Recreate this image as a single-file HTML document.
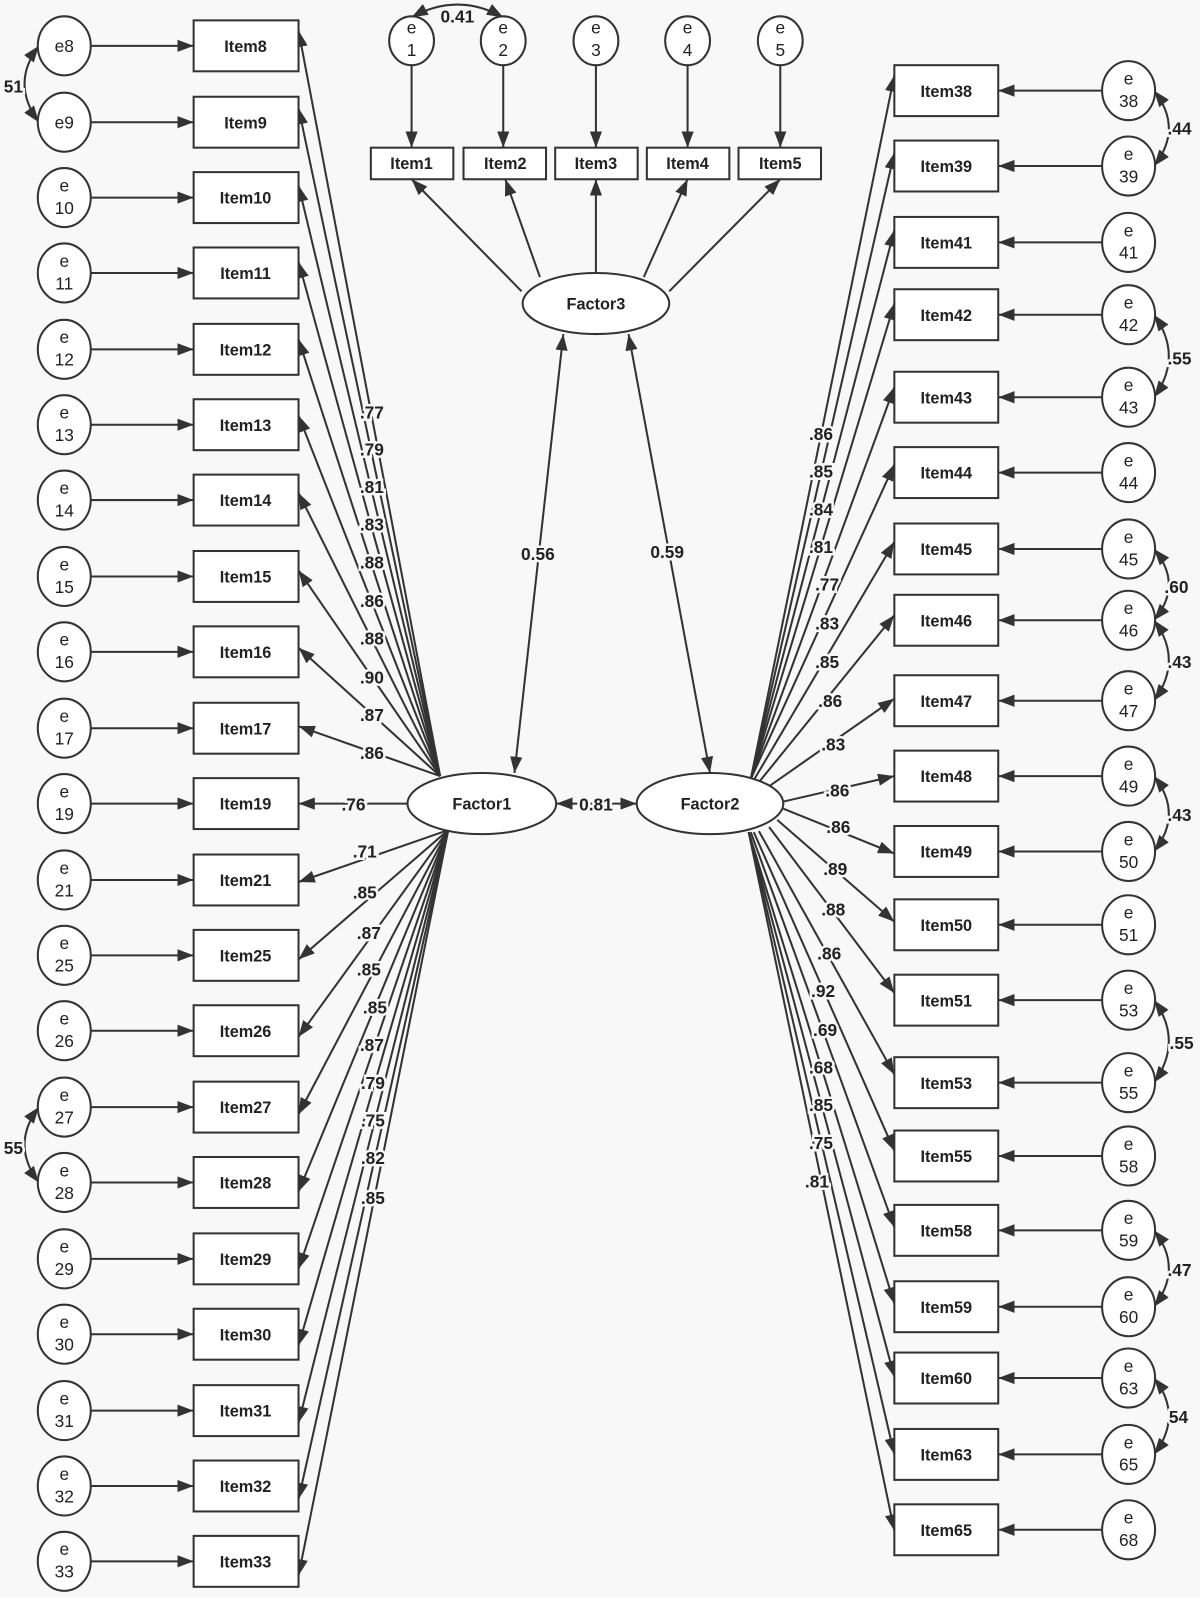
<!DOCTYPE html>
<html><head><meta charset="utf-8"><style>
html,body{margin:0;padding:0;background:#f8f8f8;}
svg{display:block}
text{font-family:"Liberation Sans",sans-serif;fill:#222;}
.b{font-weight:bold;font-size:16px;text-anchor:middle}
.e{font-size:17px;text-anchor:middle}
.l{font-size:17px;font-weight:bold;text-anchor:middle}
</style></head><body>
<svg width="1200" height="1597" viewBox="0 0 1178 1568" xmlns="http://www.w3.org/2000/svg">
<defs>
<marker id="a" viewBox="0 0 16 12" refX="16" refY="6" markerWidth="16" markerHeight="12" markerUnits="userSpaceOnUse" orient="auto-start-reverse"><path d="M0,0 L16,6 L0,12 z" fill="#333"/></marker>
</defs>
<rect width="1178" height="1568" fill="#f8f8f8"/>
<g stroke="#333" stroke-width="2" fill="none" marker-end="url(#a)">
<path d="M89,45H190"/><path d="M89,120H190"/><path d="M89,194H190"/><path d="M89,268H190"/><path d="M89,343H190"/><path d="M89,417H190"/><path d="M89,491H190"/><path d="M89,566H190"/><path d="M89,640H190"/><path d="M89,715H190"/><path d="M89,789H190"/><path d="M89,864H190"/><path d="M89,938H190"/><path d="M89,1012H190"/><path d="M89,1087H190"/><path d="M89,1161H190"/><path d="M89,1236H190"/><path d="M89,1310H190"/><path d="M89,1385H190"/><path d="M89,1459H190"/><path d="M89,1533H190"/>
<path d="M1083,89H980"/><path d="M1083,163H980"/><path d="M1083,238H980"/><path d="M1083,309H980"/><path d="M1083,390H980"/><path d="M1083,464H980"/><path d="M1083,539H980"/><path d="M1083,609H980"/><path d="M1083,688H980"/><path d="M1083,762H980"/><path d="M1083,836H980"/><path d="M1083,908H980"/><path d="M1083,982H980"/><path d="M1083,1063H980"/><path d="M1083,1135H980"/><path d="M1083,1208H980"/><path d="M1083,1283H980"/><path d="M1083,1353H980"/><path d="M1083,1428H980"/><path d="M1083,1502H980"/>
<path d="M404,64V145"/><path d="M494,64V145"/><path d="M585,64V145"/><path d="M675,64V145"/><path d="M766,64V145"/>
</g>
<g stroke="#333" stroke-width="2" fill="none">
<line x1="432" y1="762" x2="293" y2="30" marker-end="url(#a)"/>
<line x1="432" y1="762" x2="293" y2="106" marker-end="url(#a)"/>
<line x1="432" y1="762" x2="293" y2="182" marker-end="url(#a)"/>
<line x1="432" y1="762" x2="293" y2="257" marker-end="url(#a)"/>
<line x1="432" y1="762" x2="293" y2="333" marker-end="url(#a)"/>
<line x1="432" y1="762" x2="293" y2="408" marker-end="url(#a)"/>
<line x1="432" y1="762" x2="293" y2="484" marker-end="url(#a)"/>
<line x1="432" y1="762" x2="293" y2="560" marker-end="url(#a)"/>
<line x1="432" y1="762" x2="293" y2="636" marker-end="url(#a)"/>
<line x1="432" y1="762" x2="293" y2="713" marker-end="url(#a)"/>
<line x1="400" y1="789" x2="293" y2="789" marker-end="url(#a)"/>
<line x1="440" y1="815" x2="293" y2="866" marker-end="url(#a)"/>
<line x1="440" y1="815" x2="293" y2="942" marker-end="url(#a)"/>
<line x1="440" y1="815" x2="293" y2="1018" marker-end="url(#a)"/>
<line x1="440" y1="815" x2="293" y2="1094" marker-end="url(#a)"/>
<line x1="440" y1="815" x2="293" y2="1170" marker-end="url(#a)"/>
<line x1="440" y1="815" x2="293" y2="1246" marker-end="url(#a)"/>
<line x1="440" y1="815" x2="293" y2="1321" marker-end="url(#a)"/>
<line x1="440" y1="815" x2="293" y2="1397" marker-end="url(#a)"/>
<line x1="440" y1="815" x2="293" y2="1472" marker-end="url(#a)"/>
<line x1="440" y1="815" x2="293" y2="1547" marker-end="url(#a)"/>

<line x1="737" y1="765" x2="878" y2="74" marker-end="url(#a)"/>
<line x1="737" y1="765" x2="878" y2="150" marker-end="url(#a)"/>
<line x1="737" y1="765" x2="878" y2="226" marker-end="url(#a)"/>
<line x1="737" y1="765" x2="878" y2="298" marker-end="url(#a)"/>
<line x1="737" y1="765" x2="878" y2="380" marker-end="url(#a)"/>
<line x1="737" y1="765" x2="878" y2="456" marker-end="url(#a)"/>
<line x1="740" y1="766" x2="878" y2="532" marker-end="url(#a)"/>
<line x1="745" y1="768" x2="878" y2="604" marker-end="url(#a)"/>
<line x1="755" y1="772" x2="878" y2="686" marker-end="url(#a)"/>
<line x1="769" y1="787" x2="878" y2="762" marker-end="url(#a)"/>
<line x1="769" y1="794" x2="878" y2="838" marker-end="url(#a)"/>
<line x1="763" y1="805" x2="878" y2="905" marker-end="url(#a)"/>
<line x1="755" y1="812" x2="878" y2="975" marker-end="url(#a)"/>
<line x1="745" y1="816" x2="878" y2="1055" marker-end="url(#a)"/>
<line x1="740" y1="817" x2="878" y2="1130" marker-end="url(#a)"/>
<line x1="737" y1="817" x2="878" y2="1205" marker-end="url(#a)"/>
<line x1="735" y1="817" x2="878" y2="1280" marker-end="url(#a)"/>
<line x1="735" y1="817" x2="878" y2="1352" marker-end="url(#a)"/>
<line x1="735" y1="817" x2="878" y2="1428" marker-end="url(#a)"/>
<line x1="735" y1="817" x2="878" y2="1503" marker-end="url(#a)"/>

<line x1="512" y1="286" x2="404" y2="176" marker-end="url(#a)"/>
<line x1="530" y1="272" x2="496" y2="176" marker-end="url(#a)"/>
<line x1="585" y1="268" x2="585" y2="176" marker-end="url(#a)"/>
<line x1="632" y1="272" x2="675" y2="176" marker-end="url(#a)"/>
<line x1="657" y1="286" x2="766" y2="176" marker-end="url(#a)"/>
<line x1="505" y1="759" x2="553" y2="328" marker-start="url(#a)" marker-end="url(#a)"/>
<line x1="617" y1="328" x2="697" y2="759" marker-start="url(#a)" marker-end="url(#a)"/>
<line x1="546" y1="789" x2="625" y2="789" marker-start="url(#a)" marker-end="url(#a)"/>
<path d="M404,17 Q449,-8 494,17" marker-start="url(#a)" marker-end="url(#a)"/>
<path d="M38,45 Q10,82 38,120" marker-start="url(#a)" marker-end="url(#a)"/>
<path d="M38,1087 Q10,1124 38,1161" marker-start="url(#a)" marker-end="url(#a)"/>
<path d="M1133,89 Q1162,126 1133,163" marker-start="url(#a)" marker-end="url(#a)"/>
<path d="M1133,309 Q1162,350 1133,390" marker-start="url(#a)" marker-end="url(#a)"/>
<path d="M1133,539 Q1162,574 1133,609" marker-start="url(#a)" marker-end="url(#a)"/>
<path d="M1133,609 Q1162,648 1133,688" marker-start="url(#a)" marker-end="url(#a)"/>
<path d="M1133,762 Q1162,799 1133,836" marker-start="url(#a)" marker-end="url(#a)"/>
<path d="M1133,982 Q1162,1022 1133,1063" marker-start="url(#a)" marker-end="url(#a)"/>
<path d="M1133,1208 Q1162,1245 1133,1283" marker-start="url(#a)" marker-end="url(#a)"/>
<path d="M1133,1353 Q1162,1390 1133,1428" marker-start="url(#a)" marker-end="url(#a)"/>
</g>
<g fill="#fff" stroke="#333" stroke-width="2">
<rect x="190" y="20" width="103" height="50"/><rect x="190" y="95" width="103" height="50"/><rect x="190" y="169" width="103" height="50"/><rect x="190" y="243" width="103" height="50"/><rect x="190" y="318" width="103" height="50"/><rect x="190" y="392" width="103" height="50"/><rect x="190" y="466" width="103" height="50"/><rect x="190" y="541" width="103" height="50"/><rect x="190" y="615" width="103" height="50"/><rect x="190" y="690" width="103" height="50"/><rect x="190" y="764" width="103" height="50"/><rect x="190" y="839" width="103" height="50"/><rect x="190" y="913" width="103" height="50"/><rect x="190" y="987" width="103" height="50"/><rect x="190" y="1062" width="103" height="50"/><rect x="190" y="1136" width="103" height="50"/><rect x="190" y="1211" width="103" height="50"/><rect x="190" y="1285" width="103" height="50"/><rect x="190" y="1360" width="103" height="50"/><rect x="190" y="1434" width="103" height="50"/><rect x="190" y="1508" width="103" height="50"/>
<rect x="878" y="64" width="102" height="50"/><rect x="878" y="138" width="102" height="50"/><rect x="878" y="213" width="102" height="50"/><rect x="878" y="284" width="102" height="50"/><rect x="878" y="365" width="102" height="50"/><rect x="878" y="439" width="102" height="50"/><rect x="878" y="514" width="102" height="50"/><rect x="878" y="584" width="102" height="50"/><rect x="878" y="663" width="102" height="50"/><rect x="878" y="737" width="102" height="50"/><rect x="878" y="811" width="102" height="50"/><rect x="878" y="883" width="102" height="50"/><rect x="878" y="957" width="102" height="50"/><rect x="878" y="1038" width="102" height="50"/><rect x="878" y="1110" width="102" height="50"/><rect x="878" y="1183" width="102" height="50"/><rect x="878" y="1258" width="102" height="50"/><rect x="878" y="1328" width="102" height="50"/><rect x="878" y="1403" width="102" height="50"/><rect x="878" y="1477" width="102" height="50"/>
<rect x="364" y="145" width="81" height="31"/><rect x="455" y="145" width="81" height="31"/><rect x="545" y="145" width="81" height="31"/><rect x="635" y="145" width="81" height="31"/><rect x="725" y="145" width="81" height="31"/>
<ellipse cx="473" cy="789" rx="73" ry="30"/><ellipse cx="697" cy="789" rx="72" ry="30"/><ellipse cx="585" cy="298" rx="72" ry="30"/>
<ellipse cx="404" cy="40" rx="22" ry="24"/><ellipse cx="494" cy="40" rx="22" ry="24"/><ellipse cx="585" cy="40" rx="22" ry="24"/><ellipse cx="675" cy="40" rx="22" ry="24"/><ellipse cx="766" cy="40" rx="22" ry="24"/>
<ellipse cx="63" cy="45" rx="26" ry="29"/><ellipse cx="63" cy="120" rx="26" ry="29"/><ellipse cx="63" cy="194" rx="26" ry="29"/><ellipse cx="63" cy="268" rx="26" ry="29"/><ellipse cx="63" cy="343" rx="26" ry="29"/><ellipse cx="63" cy="417" rx="26" ry="29"/><ellipse cx="63" cy="491" rx="26" ry="29"/><ellipse cx="63" cy="566" rx="26" ry="29"/><ellipse cx="63" cy="640" rx="26" ry="29"/><ellipse cx="63" cy="715" rx="26" ry="29"/><ellipse cx="63" cy="789" rx="26" ry="29"/><ellipse cx="63" cy="864" rx="26" ry="29"/><ellipse cx="63" cy="938" rx="26" ry="29"/><ellipse cx="63" cy="1012" rx="26" ry="29"/><ellipse cx="63" cy="1087" rx="26" ry="29"/><ellipse cx="63" cy="1161" rx="26" ry="29"/><ellipse cx="63" cy="1236" rx="26" ry="29"/><ellipse cx="63" cy="1310" rx="26" ry="29"/><ellipse cx="63" cy="1385" rx="26" ry="29"/><ellipse cx="63" cy="1459" rx="26" ry="29"/><ellipse cx="63" cy="1533" rx="26" ry="29"/>
<ellipse cx="1108" cy="89" rx="26" ry="29"/><ellipse cx="1108" cy="163" rx="26" ry="29"/><ellipse cx="1108" cy="238" rx="26" ry="29"/><ellipse cx="1108" cy="309" rx="26" ry="29"/><ellipse cx="1108" cy="390" rx="26" ry="29"/><ellipse cx="1108" cy="464" rx="26" ry="29"/><ellipse cx="1108" cy="539" rx="26" ry="29"/><ellipse cx="1108" cy="609" rx="26" ry="29"/><ellipse cx="1108" cy="688" rx="26" ry="29"/><ellipse cx="1108" cy="762" rx="26" ry="29"/><ellipse cx="1108" cy="836" rx="26" ry="29"/><ellipse cx="1108" cy="908" rx="26" ry="29"/><ellipse cx="1108" cy="982" rx="26" ry="29"/><ellipse cx="1108" cy="1063" rx="26" ry="29"/><ellipse cx="1108" cy="1135" rx="26" ry="29"/><ellipse cx="1108" cy="1208" rx="26" ry="29"/><ellipse cx="1108" cy="1283" rx="26" ry="29"/><ellipse cx="1108" cy="1353" rx="26" ry="29"/><ellipse cx="1108" cy="1428" rx="26" ry="29"/><ellipse cx="1108" cy="1502" rx="26" ry="29"/>
</g>
<g>
<text class="b" x="241" y="51">Item8</text><text class="b" x="241" y="126">Item9</text><text class="b" x="241" y="200">Item10</text><text class="b" x="241" y="274">Item11</text><text class="b" x="241" y="349">Item12</text><text class="b" x="241" y="423">Item13</text><text class="b" x="241" y="497">Item14</text><text class="b" x="241" y="572">Item15</text><text class="b" x="241" y="646">Item16</text><text class="b" x="241" y="721">Item17</text><text class="b" x="241" y="795">Item19</text><text class="b" x="241" y="870">Item21</text><text class="b" x="241" y="944">Item25</text><text class="b" x="241" y="1018">Item26</text><text class="b" x="241" y="1093">Item27</text><text class="b" x="241" y="1167">Item28</text><text class="b" x="241" y="1242">Item29</text><text class="b" x="241" y="1316">Item30</text><text class="b" x="241" y="1391">Item31</text><text class="b" x="241" y="1465">Item32</text><text class="b" x="241" y="1539">Item33</text>
<text class="b" x="929" y="95">Item38</text><text class="b" x="929" y="169">Item39</text><text class="b" x="929" y="244">Item41</text><text class="b" x="929" y="315">Item42</text><text class="b" x="929" y="396">Item43</text><text class="b" x="929" y="470">Item44</text><text class="b" x="929" y="545">Item45</text><text class="b" x="929" y="615">Item46</text><text class="b" x="929" y="694">Item47</text><text class="b" x="929" y="768">Item48</text><text class="b" x="929" y="842">Item49</text><text class="b" x="929" y="914">Item50</text><text class="b" x="929" y="988">Item51</text><text class="b" x="929" y="1069">Item53</text><text class="b" x="929" y="1141">Item55</text><text class="b" x="929" y="1214">Item58</text><text class="b" x="929" y="1289">Item59</text><text class="b" x="929" y="1359">Item60</text><text class="b" x="929" y="1434">Item63</text><text class="b" x="929" y="1508">Item65</text>
<text class="b" x="404" y="166">Item1</text><text class="b" x="496" y="166">Item2</text><text class="b" x="585" y="166">Item3</text><text class="b" x="675" y="166">Item4</text><text class="b" x="766" y="166">Item5</text>
<text class="b" x="473" y="795">Factor1</text><text class="b" x="697" y="795">Factor2</text><text class="b" x="585" y="304">Factor3</text>
</g>
<g>
<text class="e" x="404" y="33">e</text><text class="e" x="404" y="55">1</text><text class="e" x="494" y="33">e</text><text class="e" x="494" y="55">2</text><text class="e" x="585" y="33">e</text><text class="e" x="585" y="55">3</text><text class="e" x="675" y="33">e</text><text class="e" x="675" y="55">4</text><text class="e" x="766" y="33">e</text><text class="e" x="766" y="55">5</text>
<text class="e" x="63" y="51">e8</text><text class="e" x="63" y="126">e9</text>
<text class="e" x="63" y="188">e</text><text class="e" x="63" y="210">10</text>
<text class="e" x="63" y="262">e</text><text class="e" x="63" y="284">11</text>
<text class="e" x="63" y="337">e</text><text class="e" x="63" y="359">12</text>
<text class="e" x="63" y="411">e</text><text class="e" x="63" y="433">13</text>
<text class="e" x="63" y="485">e</text><text class="e" x="63" y="507">14</text>
<text class="e" x="63" y="560">e</text><text class="e" x="63" y="582">15</text>
<text class="e" x="63" y="634">e</text><text class="e" x="63" y="656">16</text>
<text class="e" x="63" y="709">e</text><text class="e" x="63" y="731">17</text>
<text class="e" x="63" y="783">e</text><text class="e" x="63" y="805">19</text>
<text class="e" x="63" y="858">e</text><text class="e" x="63" y="880">21</text>
<text class="e" x="63" y="932">e</text><text class="e" x="63" y="954">25</text>
<text class="e" x="63" y="1006">e</text><text class="e" x="63" y="1028">26</text>
<text class="e" x="63" y="1081">e</text><text class="e" x="63" y="1103">27</text>
<text class="e" x="63" y="1155">e</text><text class="e" x="63" y="1177">28</text>
<text class="e" x="63" y="1230">e</text><text class="e" x="63" y="1252">29</text>
<text class="e" x="63" y="1304">e</text><text class="e" x="63" y="1326">30</text>
<text class="e" x="63" y="1379">e</text><text class="e" x="63" y="1401">31</text>
<text class="e" x="63" y="1453">e</text><text class="e" x="63" y="1475">32</text>
<text class="e" x="63" y="1527">e</text><text class="e" x="63" y="1549">33</text>
<text class="e" x="1108" y="83">e</text><text class="e" x="1108" y="105">38</text>
<text class="e" x="1108" y="157">e</text><text class="e" x="1108" y="179">39</text>
<text class="e" x="1108" y="232">e</text><text class="e" x="1108" y="254">41</text>
<text class="e" x="1108" y="303">e</text><text class="e" x="1108" y="325">42</text>
<text class="e" x="1108" y="384">e</text><text class="e" x="1108" y="406">43</text>
<text class="e" x="1108" y="458">e</text><text class="e" x="1108" y="480">44</text>
<text class="e" x="1108" y="533">e</text><text class="e" x="1108" y="555">45</text>
<text class="e" x="1108" y="603">e</text><text class="e" x="1108" y="625">46</text>
<text class="e" x="1108" y="682">e</text><text class="e" x="1108" y="704">47</text>
<text class="e" x="1108" y="756">e</text><text class="e" x="1108" y="778">49</text>
<text class="e" x="1108" y="830">e</text><text class="e" x="1108" y="852">50</text>
<text class="e" x="1108" y="902">e</text><text class="e" x="1108" y="924">51</text>
<text class="e" x="1108" y="976">e</text><text class="e" x="1108" y="998">53</text>
<text class="e" x="1108" y="1057">e</text><text class="e" x="1108" y="1079">55</text>
<text class="e" x="1108" y="1129">e</text><text class="e" x="1108" y="1151">58</text>
<text class="e" x="1108" y="1202">e</text><text class="e" x="1108" y="1224">59</text>
<text class="e" x="1108" y="1277">e</text><text class="e" x="1108" y="1299">60</text>
<text class="e" x="1108" y="1347">e</text><text class="e" x="1108" y="1369">63</text>
<text class="e" x="1108" y="1422">e</text><text class="e" x="1108" y="1444">65</text>
<text class="e" x="1108" y="1496">e</text><text class="e" x="1108" y="1518">68</text>
</g>
<g stroke="#f8f8f8" stroke-width="5" paint-order="stroke">
<text class="l" x="365" y="411">.77</text><text class="l" x="365" y="447">.79</text><text class="l" x="365" y="484">.81</text><text class="l" x="365" y="521">.83</text><text class="l" x="365" y="558">.88</text><text class="l" x="365" y="596">.86</text><text class="l" x="365" y="633">.88</text><text class="l" x="365" y="671">.90</text><text class="l" x="365" y="708">.87</text><text class="l" x="365" y="745">.86</text><text class="l" x="347" y="796">.76</text><text class="l" x="358" y="842">.71</text><text class="l" x="358" y="882">.85</text><text class="l" x="362" y="922">.87</text><text class="l" x="362" y="958">.85</text><text class="l" x="368" y="995">.85</text><text class="l" x="365" y="1032">.87</text><text class="l" x="366" y="1069">.79</text><text class="l" x="366" y="1106">.75</text><text class="l" x="366" y="1143">.82</text><text class="l" x="366" y="1182">.85</text>
<text class="l" x="806" y="432">.86</text><text class="l" x="806" y="469">.85</text><text class="l" x="806" y="506">.84</text><text class="l" x="806" y="543">.81</text><text class="l" x="812" y="580">.77</text><text class="l" x="812" y="618">.83</text><text class="l" x="812" y="656">.85</text><text class="l" x="815" y="694">.86</text><text class="l" x="818" y="737">.83</text><text class="l" x="822" y="782">.86</text><text class="l" x="823" y="818">.86</text><text class="l" x="820" y="859">.89</text><text class="l" x="818" y="899">.88</text><text class="l" x="814" y="942">.86</text><text class="l" x="808" y="979">.92</text><text class="l" x="810" y="1017">.69</text><text class="l" x="806" y="1054">.68</text><text class="l" x="806" y="1091">.85</text><text class="l" x="806" y="1128">.75</text><text class="l" x="802" y="1166">.81</text>
<text class="l" x="528" y="550">0.56</text><text class="l" x="655" y="548">0.59</text><text class="l" x="585" y="796">0.81</text>
<text class="l" x="449" y="22">0.41</text>
<text class="l" x="13" y="91">51</text><text class="l" x="13" y="1133">55</text>
<text class="l" x="1158" y="132">.44</text><text class="l" x="1158" y="358">.55</text><text class="l" x="1155" y="582">.60</text><text class="l" x="1158" y="656">.43</text><text class="l" x="1158" y="806">.43</text><text class="l" x="1160" y="1030">.55</text><text class="l" x="1158" y="1253">.47</text><text class="l" x="1157" y="1397">54</text>
</g>
</svg>
</body></html>
